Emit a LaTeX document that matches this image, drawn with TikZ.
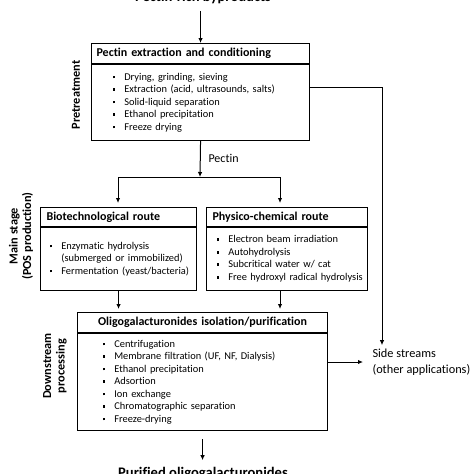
\documentclass[tikz,border=0pt]{standalone}
\usepackage{fontspec}
\setmainfont{Carlito}[Ligatures=NoCommon]
\usetikzlibrary{arrows.meta}
\newcommand{\sqb}{\rule[1.8pt]{2.8pt}{2.8pt}}
\newcommand{\fsz}[2]{\fontsize{#1}{#2}\selectfont}

\begin{document}
\begin{tikzpicture}[x=1pt,y=-1pt,
	hdr/.style={draw, line width=1.1pt, anchor=north west, align=left, minimum height=20pt, font=\bfseries\fsz{12}{13}},
	bodybox/.style={draw, line width=1.1pt, anchor=north west, align=left, font=\fsz{10.4}{12.5}},
	arr/.style={line width=1pt, -{Latex[length=5pt,width=4.5pt]}},
	stage/.style={rotate=90, align=center, font=\bfseries\fsz{12.3}{13.5}}]
			%%%%% START %%%%%
			\useasboundingbox (0,0) rectangle (474,474);
			
			\node[font=\bfseries\fsz{14.6}{16}, anchor=base] (src) at (203,1.5) {Pectin-rich byproducts};
			
			\node[hdr, text width=208pt, inner xsep=5pt, minimum height=20pt] (ext) at (91,43) {Pectin extraction and conditioning};
			\node[bodybox, text width=176pt, inner xsep=21pt, minimum height=76pt] (extbody) at (ext.south west) {%
				\begin{tabular}{@{}l@{\hspace{9pt}}l@{}}
					\sqb & Drying, grinding, sieving\\
					\sqb & Extraction (acid, ultrasounds, salts)\\
					\sqb & Solid-liquid separation\\
					\sqb & Ethanol precipitation\\
					\sqb & Freeze drying
				\end{tabular}};
			\node[stage] (pre) at (76,95) {Pretreatment};
			
			\node[font=\fsz{12}{14}, anchor=west] (pec) at (205,158) {Pectin};
			
			\node[hdr, text width=144pt, inner xsep=6pt, minimum height=19pt] (bio) at (40,207) {Biotechnological route};
			\node[bodybox, text width=138pt, inner xsep=9pt, minimum height=63pt] (biobody) at (bio.south west) {%
				\begin{tabular}{@{}l@{\hspace{9pt}}l@{}}
					\sqb & Enzymatic hydrolysis\\
					& (submerged or immobilized)\\
					\sqb & Fermentation (yeast/bacteria)
				\end{tabular}};
			
			\node[hdr, text width=149pt, inner xsep=6pt, minimum height=19pt] (phy) at (206,207) {Physico-chemical route};
			\node[bodybox, text width=141pt, inner xsep=10pt, minimum height=63pt] (phybody) at (phy.south west) {%
				\begin{tabular}{@{}l@{\hspace{9pt}}l@{}}
					\sqb & Electron beam irradiation\\
					\sqb & Autohydrolysis\\
					\sqb & Subcritical water w/ cat\\
					\sqb & Free hydroxyl radical hydrolysis
				\end{tabular}};
			\node[stage] (main) at (21,236) {Main stage\\(POS production)};
			
			\node[hdr, text width=240pt, inner xsep=5pt, minimum height=20pt, align=center] (iso) at (77,312) {Oligogalacturonides isolation/purification};
			\node[bodybox, text width=200pt, inner xsep=25pt, minimum height=97pt] (isobody) at (iso.south west) {%
				\begin{tabular}{@{}l@{\hspace{9pt}}l@{}}
					\sqb & Centrifugation\\
					\sqb & Membrane filtration (UF, NF, Dialysis)\\
					\sqb & Ethanol precipitation\\
					\sqb & Adsortion\\
					\sqb & Ion exchange\\
					\sqb & Chromatographic separation\\
					\sqb & Freeze-drying
				\end{tabular}};
			\node[stage] (down) at (55,366) {Downstream\\processing};
			
			\node[font=\fsz{12.3}{16}, align=left, anchor=west] (side) at (369,362) {Side streams\\(other applications)};
			\node[font=\bfseries\fsz{14.6}{16}, anchor=base] (out) at (203,477) {Purified oligogalacturonides};
			
			\coordinate (jl) at (118,177);
			\coordinate (jm) at (200,177);
			\coordinate (jr) at (280,177);
			\coordinate (st) at (382,87);
			
			\draw[arr, shorten <=3.5pt] (src.south -| ext.north) -- (ext.north);
			\draw[arr] (extbody.south) -- (jm);
			\draw[line width=1pt] (jl) -- (jr);
			\draw[arr, shorten >=4pt] (jl) -- (jl |- bio.north);
			\draw[arr, shorten >=4pt] (jr) -- (jr |- phy.north);
			\draw[arr, shorten >=3pt] (biobody.south) -- (biobody.south |- iso.north);
			\draw[arr, shorten >=3pt] (jr |- phybody.south) -- (jr |- iso.north);
			\draw[arr] (extbody.east |- st) -- (st) -- (st |- side.north);
			\draw[arr, shorten >=6pt] (isobody.east |- side.west) -- (side.west);
			\draw[arr, shorten <=8pt, shorten >=3pt] (isobody.south) -- (isobody.south |- out.north);
			
			%%%%% END %%%%%
\end{tikzpicture}
\end{document}
